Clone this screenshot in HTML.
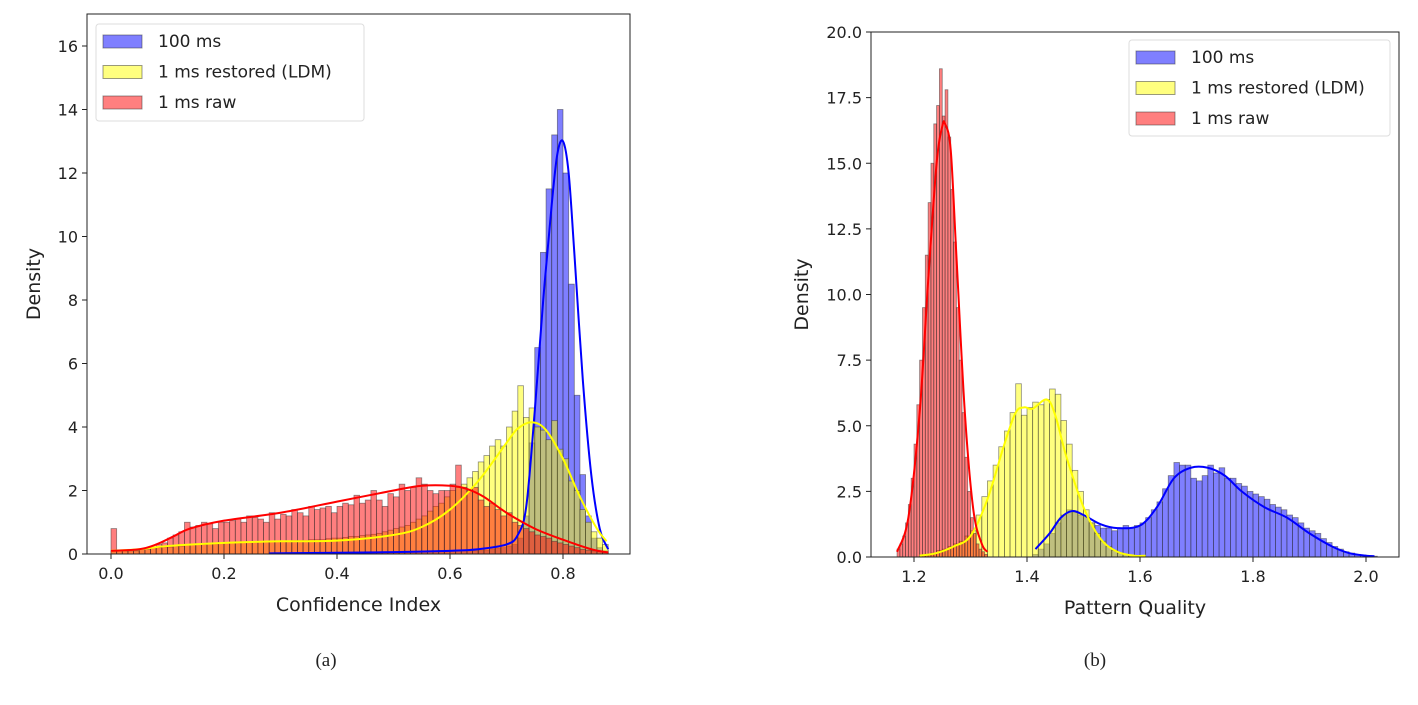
<!DOCTYPE html>
<html><head><meta charset="utf-8"><style>
body{margin:0;background:#fff;width:1418px;height:700px;overflow:hidden;font-family:"Liberation Sans","DejaVu Sans",sans-serif}
svg text{font-family:"DejaVu Sans","Liberation Sans",sans-serif;fill:#222}
</style></head><body>
<svg id="fig" width="1418" height="700"></svg>
<script>
// ---------- Panel (a) data ----------
const aBinStart = 0.0, aBinWidth = 0.01;
const aBlue = [0,0,0,0,0,0,0,0,0,0, 0,0,0,0,0,0,0,0,0,0, 0,0,0,0,0,0,0,0,0.02,0.02, 0.02,0.02,0.02,0.02,0.02,0.02,0.02,0.02,0.02,0.02, 0.03,0.03,0.03,0.03,0.03,0.03,0.04,0.04,0.04,0.04, 0.05,0.05,0.05,0.06,0.06,0.06,0.07,0.07,0.08,0.08, 0.08,0.09,0.1,0.1,0.1,0.12,0.12,0.15,0.18,0.2, 0.25,0.3,0.5,1.2,3.5,6.5,9.5,11.5,13.2,14.0, 12.0,8.5,5.0,2.5,1.2,0.5,0.2,0.1];
const aYellow = [0.1,0.1,0.1,0.12,0.15,0.15,0.18,0.2,0.2,0.22, 0.22,0.25,0.25,0.28,0.3,0.3,0.3,0.32,0.32,0.35, 0.35,0.35,0.35,0.38,0.38,0.38,0.4,0.4,0.4,0.4, 0.4,0.4,0.42,0.42,0.42,0.45,0.45,0.45,0.48,0.5, 0.5,0.52,0.55,0.55,0.58,0.6,0.62,0.65,0.7,0.75, 0.8,0.85,0.9,1.0,1.1,1.2,1.35,1.5,1.6,1.8, 2.0,2.1,2.2,2.4,2.6,2.9,3.1,3.4,3.6,3.4, 4.0,4.5,5.3,4.3,4.6,4.0,3.9,3.6,4.2,3.3, 3.0,2.3,2.0,1.4,1.0,0.7,0.5,0.3];
const aRed = [0.8,0.1,0.1,0.1,0.1,0.15,0.15,0.2,0.3,0.35, 0.5,0.6,0.7,1.0,0.85,0.9,1.0,0.95,0.8,1.0, 1.0,1.05,1.1,1.0,1.2,1.15,1.1,1.0,1.3,1.1, 1.25,1.2,1.4,1.3,1.2,1.5,1.4,1.45,1.5,1.3, 1.5,1.6,1.55,1.85,1.6,1.7,2.0,1.7,1.5,1.9, 1.8,2.2,2.0,2.1,2.4,2.2,2.0,1.9,2.0,2.0, 2.2,2.8,2.1,2.0,2.1,1.7,1.5,1.6,1.4,1.2, 1.3,1.0,0.9,0.8,0.7,0.6,0.55,0.5,0.4,0.35, 0.3,0.25,0.2,0.15,0.12,0.1,0.08,0.05];
const aBlueKdeX = [0.28,0.4,0.5,0.6,0.65,0.7,0.72,0.735,0.75,0.765,0.78,0.79,0.80,0.81,0.82,0.835,0.85,0.865,0.88];
const aBlueKdeY = [0.02,0.04,0.06,0.1,0.15,0.3,0.6,1.5,4.5,8.0,11.0,12.6,13.0,12.0,9.5,5.5,2.5,0.8,0.15];
const aYellowKdeX = [0.0,0.05,0.1,0.2,0.3,0.4,0.5,0.55,0.6,0.65,0.7,0.72,0.745,0.77,0.8,0.83,0.86,0.877];
const aYellowKdeY = [0.1,0.15,0.25,0.35,0.4,0.42,0.6,0.85,1.4,2.3,3.5,3.95,4.15,3.9,3.0,1.8,0.8,0.4];
const aRedKdeX = [0.0,0.05,0.08,0.11,0.14,0.2,0.3,0.4,0.5,0.55,0.6,0.63,0.66,0.7,0.75,0.8,0.85,0.88];
const aRedKdeY = [0.1,0.15,0.3,0.55,0.8,1.05,1.3,1.65,2.0,2.15,2.15,2.05,1.8,1.3,0.8,0.45,0.15,0.05];
const aXTicks = [0.0,0.2,0.4,0.6,0.8];
const aXTickLabels = ["0.0","0.2","0.4","0.6","0.8"];
const aYTicks = [0,2,4,6,8,10,12,14,16];
const aYTickLabels = ["0","2","4","6","8","10","12","14","16"];

// ---------- Panel (b) data ----------
const bRedStart = 1.17, bRedWidth = 0.005;
const bRed = [0.3,0.5,0.8,1.3,2.0,3.0,4.3,5.8,7.5,9.5,11.5,13.5,15.0,16.5,17.2,18.6,16.8,17.8,16.0,14.0,12.0,9.5,7.5,5.5,3.8,2.5,1.5,0.9,0.5,0.3,0.2,0.1];
const bYellowStart = 1.21, bYellowWidth = 0.01;
const bYellow = [0.05,0.1,0.15,0.25,0.3,0.4,0.5,0.6,0.8,1.0, 1.6,2.3,2.9,3.5,4.2,4.8,5.5,6.6,5.4,5.7, 5.9,5.8,6.0,6.4,6.2,5.2,4.3,3.3,2.5,1.8, 1.3,0.9,0.6,0.4,0.25,0.15,0.1,0.06,0.04,0.02];
const bBlueStart = 1.41, bBlueWidth = 0.01;
const bBlue = [0.1,0.3,0.5,0.9,1.3,1.6,1.8,1.7,1.6,1.5, 1.3,1.2,1.1,1.1,1.0,1.1,1.2,1.1,1.2,1.3, 1.5,1.8,2.1,2.6,3.1,3.6,3.5,3.5,3.0,2.9, 3.1,3.5,3.2,3.4,3.0,3.0,2.8,2.7,2.5,2.4, 2.3,2.2,2.0,1.9,1.8,1.6,1.5,1.3,1.1,1.0, 0.9,0.7,0.55,0.4,0.3,0.2,0.15,0.1,0.08,0.05,0.03];
const bRedKdeX = [1.17,1.19,1.21,1.225,1.24,1.25,1.255,1.265,1.275,1.29,1.305,1.32,1.33];
const bRedKdeY = [0.2,1.5,5.5,10.5,15.0,16.4,16.5,15.5,11.5,5.5,1.8,0.5,0.2];
const bYellowKdeX = [1.21,1.24,1.27,1.3,1.33,1.36,1.38,1.395,1.41,1.435,1.45,1.47,1.5,1.53,1.56,1.59,1.61];
const bYellowKdeY = [0.05,0.15,0.4,0.8,2.2,4.3,5.5,5.7,5.65,6.0,5.4,3.8,1.9,0.7,0.2,0.05,0.05];
const bBlueKdeX = [1.415,1.44,1.46,1.48,1.5,1.53,1.56,1.6,1.63,1.66,1.69,1.72,1.75,1.78,1.82,1.86,1.9,1.94,1.97,2.0,2.015];
const bBlueKdeY = [0.3,0.9,1.5,1.75,1.6,1.25,1.1,1.2,1.9,3.0,3.4,3.4,3.1,2.5,1.9,1.5,0.9,0.4,0.15,0.05,0.03];
const bXTicks = [1.2,1.4,1.6,1.8,2.0];
const bXTickLabels = ["1.2","1.4","1.6","1.8","2.0"];
const bYTicks = [0,2.5,5,7.5,10,12.5,15,17.5,20];
const bYTickLabels = ["0.0","2.5","5.0","7.5","10.0","12.5","15.0","17.5","20.0"];

const NS = "http://www.w3.org/2000/svg";
const svg = document.getElementById('fig');
function mk(tag, attrs, parent){ const e=document.createElementNS(NS,tag); for(const k in attrs) e.setAttribute(k,attrs[k]); (parent||svg).appendChild(e); return e; }

function smoothPath(pts){
  let d = "M"+pts[0][0]+","+pts[0][1];
  for(let i=0;i<pts.length-1;i++){
    const p0=pts[Math.max(0,i-1)], p1=pts[i], p2=pts[i+1], p3=pts[Math.min(pts.length-1,i+2)];
    const c1x=p1[0]+(p2[0]-p0[0])/6, c1y=p1[1]+(p2[1]-p0[1])/6;
    const c2x=p2[0]-(p3[0]-p1[0])/6, c2y=p2[1]-(p3[1]-p1[1])/6;
    d+=" C"+c1x+","+c1y+" "+c2x+","+c2y+" "+p2[0]+","+p2[1];
  }
  return d;
}

function panel(cfg){
  const g = mk('g',{});
  
  
  const sx = v => cfg.x0px + (v - cfg.x0v)*cfg.xScale;
  const sy = v => cfg.y0px - v*cfg.yScale;
  const plot = mk('g',{},g);
  
  
  cfg.series.forEach(s=>{
    const sg = mk('g',{},plot);
    
    
    s.values.forEach((v,i)=>{
      if(v<=0) return;
      const x1=sx(s.start+i*s.width), x2=sx(s.start+(i+1)*s.width);
      const r = mk('rect',{x:x1,y:sy(v),width:Math.max(0.5,x2-x1),height:sy(0)-sy(v),fill:s.fill,'fill-opacity':0.5,stroke:'#333','stroke-opacity':0.55,'stroke-width':0.8},sg);
      
      
    });
  });
  cfg.series.forEach(s=>{
    const pts = s.kx.map((x,i)=>[sx(x),sy(s.ky[i])]);
    const p = mk('path',{d:smoothPath(pts),fill:'none',stroke:s.line,'stroke-width':2},plot);
    
    
  });
  const frame = mk('rect',{x:cfg.left,y:cfg.top,width:cfg.right-cfg.left,height:cfg.bottom-cfg.top,fill:'none',stroke:'#222','stroke-width':1},g);
  
  
  cfg.xTicks.forEach((t,i)=>{
    const x=sx(t);
    mk('line',{x1:x,x2:x,y1:cfg.bottom,y2:cfg.bottom+5,stroke:'#222'},g);
    const tx=mk('text',{x:x,y:cfg.bottom+25,'text-anchor':'middle','font-size':16},g);
    tx.textContent=cfg.xTickLabels[i];
    
    
  });
  cfg.yTicks.forEach((t,i)=>{
    const y=sy(t);
    mk('line',{x1:cfg.left-5,x2:cfg.left,y1:y,y2:y,stroke:'#222'},g);
    const tx=mk('text',{x:cfg.left-9,y:y+6,'text-anchor':'end','font-size':16},g);
    tx.textContent=cfg.yTickLabels[i];
    
    
  });
  const xl=mk('text',{x:(cfg.left+cfg.right)/2,y:cfg.bottom+57,'text-anchor':'middle','font-size':19},g);
  xl.textContent=cfg.xLabel;
  
  
  const yl=mk('text',{x:0,y:0,'text-anchor':'middle','font-size':19,transform:`translate(${cfg.yLabelX},${(cfg.top+cfg.bottom)/2}) rotate(-90)`},g);
  yl.textContent='Density';
  
  
  const L=cfg.legend;
  const lg=mk('g',{},g);
  
  
  mk('rect',{x:L.x,y:L.y,width:L.w,height:L.h,rx:3,fill:'#fff','fill-opacity':0.85,stroke:'#ddd'},lg);
  cfg.series.forEach((s,i)=>{
    const ey=L.y+17+i*30.5;
    const e=mk('g',{},lg);
    
    
    mk('rect',{x:L.x+7,y:ey-6,width:39,height:13,fill:s.fill,'fill-opacity':0.5,stroke:'#333','stroke-opacity':0.5},e);
    const t=mk('text',{x:L.x+62,y:ey+6,'font-size':17},e);
    t.textContent=s.label;
  });
  const cap=mk('text',{x:cfg.capX,y:666,'text-anchor':'middle','font-size':19,style:'font-family:"Liberation Serif",serif'},g);
  cap.textContent=cfg.caption;
  
  
}

panel({name:'confidence-index-panel',left:87,right:630,top:14,bottom:554,x0px:111,x0v:0,xScale:565,y0px:554,yScale:31.75,
  xTicks:aXTicks,xTickLabels:aXTickLabels,yTicks:aYTicks,yTickLabels:aYTickLabels,xLabel:'Confidence Index',yLabelX:40,capX:326,caption:'(a)',
  legend:{x:96,y:24,w:268,h:97},
  series:[
    {key:'100ms',label:'100 ms',start:aBinStart,width:aBinWidth,values:aBlue,fill:'#0000ff',line:'#0000ff',kx:aBlueKdeX,ky:aBlueKdeY},
    {key:'1ms-restored',label:'1 ms restored (LDM)',start:aBinStart,width:aBinWidth,values:aYellow,fill:'#ffff00',line:'#ffff00',kx:aYellowKdeX,ky:aYellowKdeY},
    {key:'1ms-raw',label:'1 ms raw',start:aBinStart,width:aBinWidth,values:aRed,fill:'#ff0000',line:'#ff0000',kx:aRedKdeX,ky:aRedKdeY}
  ]});

panel({name:'pattern-quality-panel',left:871,right:1399,top:32,bottom:557,x0px:914,x0v:1.2,xScale:565,y0px:557,yScale:26.25,
  xTicks:bXTicks,xTickLabels:bXTickLabels,yTicks:bYTicks,yTickLabels:bYTickLabels,xLabel:'Pattern Quality',yLabelX:808,capX:1095,caption:'(b)',
  legend:{x:1129,y:40,w:261,h:96},
  series:[
    {key:'100ms',label:'100 ms',start:bBlueStart,width:bBlueWidth,values:bBlue,fill:'#0000ff',line:'#0000ff',kx:bBlueKdeX,ky:bBlueKdeY},
    {key:'1ms-restored',label:'1 ms restored (LDM)',start:bYellowStart,width:bYellowWidth,values:bYellow,fill:'#ffff00',line:'#ffff00',kx:bYellowKdeX,ky:bYellowKdeY},
    {key:'1ms-raw',label:'1 ms raw',start:bRedStart,width:bRedWidth,values:bRed,fill:'#ff0000',line:'#ff0000',kx:bRedKdeX,ky:bRedKdeY}
  ]});
</script>
</body></html>
